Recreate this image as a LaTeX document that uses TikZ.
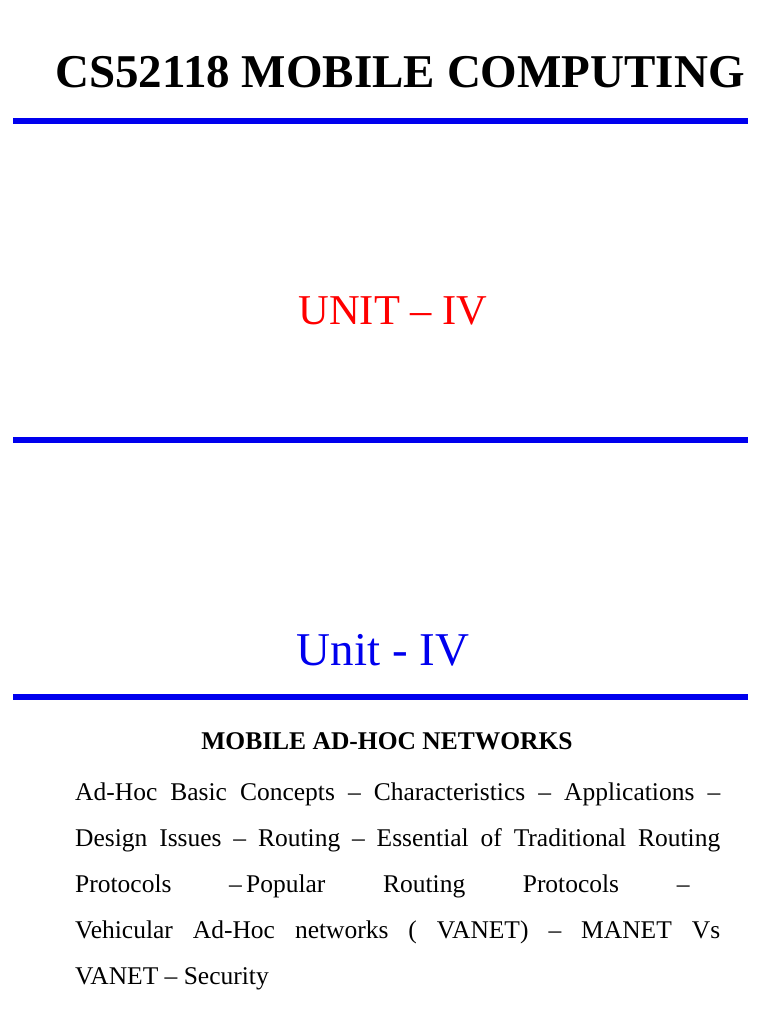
\documentclass[tikz,border=0pt]{standalone}
\usepackage{fontspec}
\setmainfont{Liberation Serif}
\begin{document}
\begin{tikzpicture}[x=1pt,y=-1pt,
  rule/.style={draw={rgb,255:red,0;green,0;blue,238},line width=6pt},
  body/.style={anchor=base west,inner sep=0pt,font=\fontsize{25.5}{28}\selectfont}]
\useasboundingbox (0,0) rectangle (768,1024);
\node[anchor=base,inner sep=0pt,font=\fontsize{47}{56}\selectfont\bfseries] (title) at (400,88) {CS52118 MOBILE COMPUTING};
\coordinate (a1) at (13,121); \coordinate (b1) at (748,121);
\coordinate (a2) at (13,440); \coordinate (b2) at (748,440);
\coordinate (a3) at (13,697); \coordinate (b3) at (748,697);
\draw[rule] (a1) -- (b1);
\draw[rule] (a2) -- (b2);
\draw[rule] (a3) -- (b3);
\node[anchor=base,inner sep=0pt,text=red,font=\fontsize{42.5}{46}\selectfont] (u1) at (393,324) {UNIT – IV};
\node[anchor=base,inner sep=0pt,text={rgb,255:red,0;green,0;blue,238},font=\fontsize{47}{50}\selectfont] (u2) at (383,665) {Unit - IV};
\node[anchor=base,inner sep=0pt,font=\fontsize{25.5}{26}\selectfont\bfseries] (h) at (387,749) {MOBILE AD-HOC NETWORKS};
\node[body] (l1) at (75,800) {\makebox[645pt][s]{Ad-Hoc Basic Concepts – Characteristics – Applications –}};
\node[body] (l2) at (75,846) {\makebox[645pt][s]{Design Issues – Routing – Essential of Traditional Routing}};
\node[body] (l3) at (75,892) {\makebox[645pt][s]{Protocols\hspace{0.5em plus 1fil}–\,Popular\hspace{0.5em plus 1fil}Routing\hspace{0.5em plus 1fil}Protocols\hspace{0.5em plus 1fil}–\hspace{0.5em plus 0.4fil}}};
\node[body] (l4) at (75,938) {\makebox[645pt][s]{Vehicular Ad-Hoc networks ( VANET) – MANET Vs}};
\node[body] (l5) at (75,984) {VANET – Security};
\end{tikzpicture}
\end{document}
